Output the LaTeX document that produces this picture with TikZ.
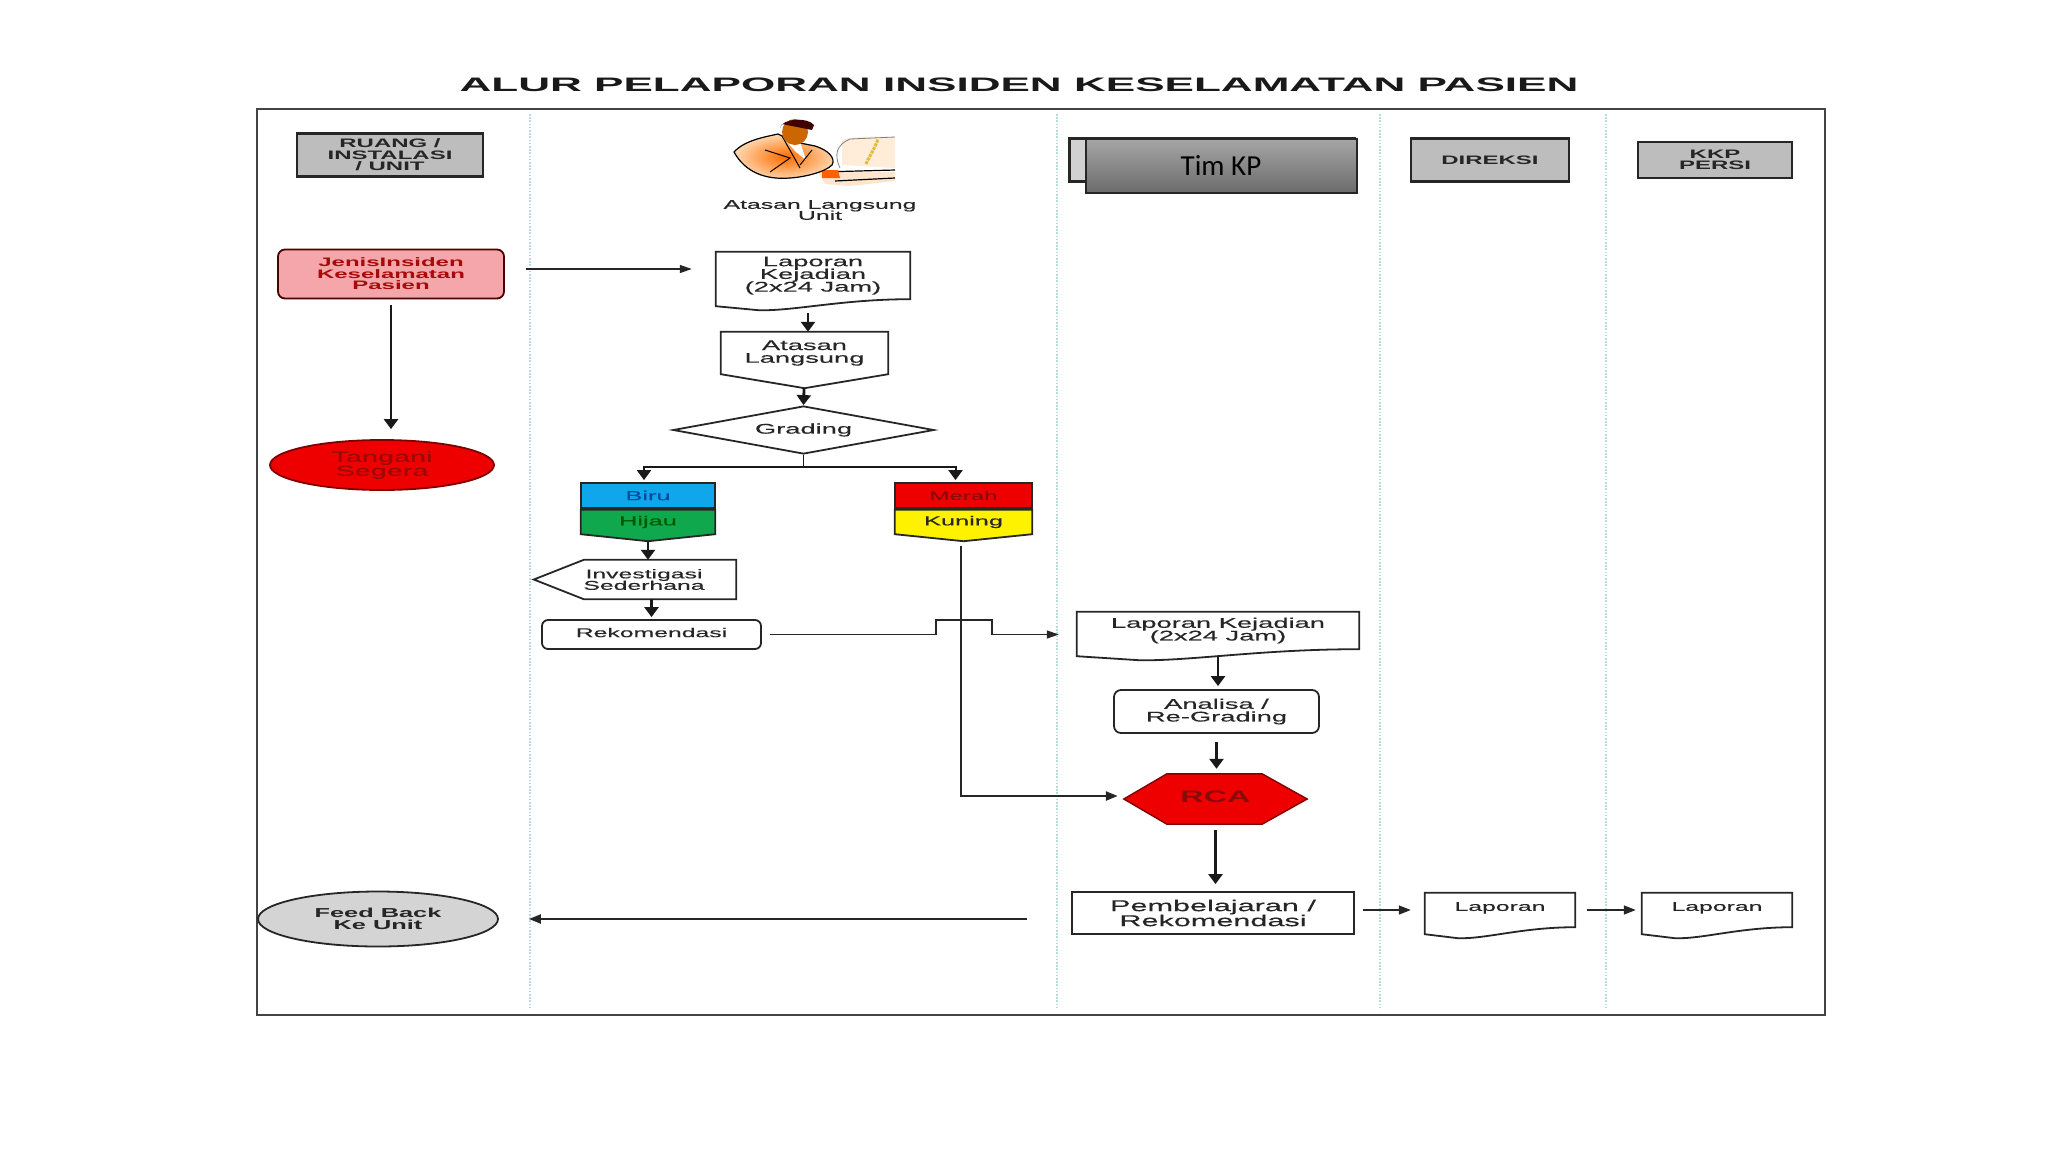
\documentclass[tikz,border=0pt]{standalone}
\usepackage{fontspec}
\usepackage{xcolor}
\usepackage{tikz}
\usetikzlibrary{shapes, shapes.geometric, backgrounds, arrows.meta, calc}
\newfontfamily\flowfont[FakeStretch=1.95, FakeBold=0.3, BoldFeatures={FakeBold=0}]{Liberation Sans}
\newfontfamily\titlefont[FakeStretch=2.26]{Liberation Sans}
\newfontfamily\timfont{Carlito}
\newcommand{\flowsize}[2]{\fontsize{#1}{#2}\selectfont\lineskiplimit=-20pt}
\definecolor{framegray}{HTML}{444444}
\definecolor{lanedot}{HTML}{B4DEDA}
\definecolor{headgray}{HTML}{BDBDBD}
\definecolor{jenispink}{HTML}{F4A6AB}
\definecolor{birublue}{HTML}{0FA6EC}
\definecolor{birutext}{HTML}{0B4A9E}
\definecolor{hijaugreen}{HTML}{10A84C}
\definecolor{merahred}{HTML}{EE0000}
\definecolor{darkred}{HTML}{A80A0A}
\definecolor{inkred}{HTML}{8A0A0A}
\tikzset{
    flowbox/.style={inner sep=0pt, align=center, font=\flowfont\flowsize{14}{12.7}, text=black!85},
    outline/.style={draw=black!85, line width=1.8pt},
    headbox/.style={flowbox, font=\flowfont\bfseries\flowsize{12.3}{11.5}, outline, line width=2.6pt, fill=headgray},
    flowarrow/.style={line width=2.8pt, draw=black!90, -{Triangle[length=10pt,width=14pt]}},
    thinarrow/.style={line width=1.3pt, draw=black!85, -{Triangle[length=12pt,width=8pt]}},
    midarrow/.style={line width=1.6pt, draw=black!85, -{Triangle[length=12pt,width=9pt]}},
    lanedots/.style={draw=lanedot, line width=1.6pt, dash pattern=on 1.6pt off 1.6pt}
}
% outlines under the labels
\newcommand{\docoutline}[1]{
    \begin{pgfonlayer}{background}
    \filldraw[outline, fill=white] (#1.north west) -- (#1.north east) -- (#1.south east)
        .. controls ($(#1.south east)!0.35!(#1.south west)$) and ($(#1.south east)!0.6!(#1.south west)+(0,12)$) .. ($(#1.south east)!0.78!(#1.south west)+(0,11)$)
        -- ($(#1.south west)+(0,7)$) -- cycle;
    \end{pgfonlayer}}
\newcommand{\tipoutline}[3]{
    \begin{pgfonlayer}{background}
    \filldraw[outline, fill=#3] (#1.north west) -- (#1.north east) -- (#1.south east)
        -- ($(#1.south east)!0.5!(#1.south west)+(0,#2)$) -- (#1.south west) -- cycle;
    \end{pgfonlayer}}

\begin{document}
\begin{tikzpicture}[x=1pt, y=-1pt]
    \useasboundingbox (0,0) rectangle (2048,1152);
    % frame and lanes
    \begin{scope}[on background layer]
        \draw[framegray, line width=2.4pt] (257,109) rectangle (1825,1015);
        \foreach \lanex in {530,1057,1380,1606}
            \draw[lanedots] (\lanex,114) -- (\lanex,1010);
    \end{scope}
    \node (title) at (1019,85) {\titlefont\bfseries\flowsize{19.5}{20}\color{black!90}ALUR PELAPORAN INSIDEN KESELAMATAN PASIEN};

    % headers
    \node[headbox, minimum width=186pt, minimum height=43pt] (ruang) at (390,155) {RUANG /\\INSTALASI\\/ UNIT};
    \node[headbox, fill=headgray!70, minimum width=285pt, minimum height=43pt] (timback) at (1212,160) {};
    \node[flowbox, outline, line width=2pt, top color=black!35, bottom color=black!58, minimum width=271pt, minimum height=54pt] (timkp) at (1221,166) {\timfont\flowsize{29}{30}\color{black}Tim KP};
    \node[headbox, minimum width=158pt, minimum height=43pt] (direksi) at (1490,160) {DIREKSI};
    \node[headbox, minimum width=154pt, minimum height=36pt] (kkp) at (1715,160) {KKP\\PERSI};

    % atasan figure
    \fill[white!85!orange] (842,140) .. controls (860,135) and (880,137) .. (895,137) -- (895,168) -- (842,165) -- cycle;
    \draw[black!50, line width=0.8pt] (840,168) .. controls (834,155) and (836,145) .. (850,139) -- (895,137);
    \draw[yellow!45!brown, line width=3pt, densely dotted] (866,164) .. controls (870,155) and (875,148) .. (878,139);
    \fill[white!80!orange] (818,172) -- (895,172) -- (895,181) -- (850,186) -- (825,184) -- cycle;
    \draw[black, line width=1.2pt] (822,172) -- (895,170) (835,181) -- (895,178);
    \fill[orange!75!red] (822,170) -- (838,170) -- (840,178) -- (822,178) -- cycle;
    \filldraw[draw=black, line width=1.2pt, inner color=orange!85!red, outer color=orange!30!white] (734,152) .. controls (745,140) and (765,137) .. (778,134) -- (795,142) -- (815,146) .. controls (828,150) and (836,158) .. (832,165) .. controls (825,172) and (805,177) .. (790,178) .. controls (765,180) and (745,172) .. (734,152) -- cycle;
    \fill[white] (782,136) -- (800,142) -- (806,160) -- (796,152) -- cycle;
    \draw[black, line width=1pt] (782,136) -- (800,168) (765,150) -- (790,158) -- (770,172) (812,150) -- (800,165);
    \fill[orange!80!black] (795,132) ellipse [x radius=13pt, y radius=13pt];
    \fill[black!75!red] (780,128) .. controls (782,118) and (808,117) .. (814,125) -- (812,130) -- (782,124) -- cycle;
    \node[flowbox, font=\flowfont\flowsize{12.7}{11}] (atasanunit) at (820,210) {Atasan Langsung\\Unit};

    % left lane
    \node[flowbox, font=\flowfont\bfseries\flowsize{12.3}{11.5}, text=darkred, outline, draw=black!70!red, fill=jenispink, rounded corners=7pt, minimum width=226pt, minimum height=49pt] (jenis) at (391,274) {JenisInsiden\\Keselamatan\\Pasien};
    \node[flowbox, ellipse, font=\flowfont\flowsize{14.8}{14}, text=inkred!85!red, outline, draw=black!50!red, fill=merahred, minimum width=224pt, minimum height=50pt] (tangani) at (382,465) {Tangani\\Segera};
    \node[flowbox, ellipse, font=\flowfont\bfseries\flowsize{13}{12.6}, outline, fill=black!17, minimum width=240pt, minimum height=55pt] (feedback) at (378,919) {\raisebox{3pt}{\parbox{150pt}{\centering Feed Back\\Ke Unit}}};

    % atasan lane
    \node[flowbox, minimum width=194pt, minimum height=47pt] (laporan) at (813,275.5) {Laporan\\Kejadian\\(2x24 Jam)};
    \docoutline{laporan}
    \node[flowbox, minimum width=167pt, minimum height=42pt] (atasan) at (804.5,353) {Atasan\\Langsung};
    \tipoutline{atasan}{14}{white}
    \node[flowbox, diamond, aspect=5.4, outline, minimum width=261pt, minimum height=48pt] (grading) at (803.5,430) {\raisebox{2pt}{Grading}};
    \coordinate (branch) at (803.5,467);

    \node[flowbox, font=\flowfont\flowsize{13}{12}, text=birutext, outline, fill=birublue, minimum width=134pt, minimum height=25pt] (biru) at (648,495.5) {\raisebox{-3pt}{Biru}};
    \node[flowbox, font=\flowfont\flowsize{13}{12}, text=green!35!black, minimum width=134pt, minimum height=24pt] (hijau) at (648,522) {\raisebox{-3pt}{Hijau}};
    \tipoutline{hijau}{7}{hijaugreen}
    \node[flowbox, font=\flowfont\flowsize{12.3}{12}, text=inkred, outline, fill=merahred, minimum width=137pt, minimum height=25pt] (merah) at (963.5,495.5) {\raisebox{-2pt}{Merah}};
    \node[flowbox, font=\flowfont\flowsize{13}{12}, minimum width=137pt, minimum height=24pt] (kuning) at (963.5,522) {\raisebox{-3pt}{Kuning}};
    \tipoutline{kuning}{7}{yellow}

    \node[flowbox, font=\flowfont\flowsize{12.7}{11.5}, minimum width=184pt, minimum height=39pt] (investigasi) at (644,579.5) {Investigasi\\Sederhana};
    \begin{pgfonlayer}{background}
        \filldraw[outline, fill=white] (investigasi.north east) -- (investigasi.south east) -- ($(investigasi.south west)+(32,0)$) -- ($(investigasi.west)+(-18,0)$) -- ($(investigasi.north west)+(32,0)$) -- cycle;
    \end{pgfonlayer}
    \node[flowbox, font=\flowfont\flowsize{12.7}{12}, outline, rounded corners=6pt, minimum width=219pt, minimum height=29pt] (rekomendasi) at (651.5,634.5) {\raisebox{4pt}{Rekomendasi}};

    % tim kp lane
    \node[flowbox, minimum width=282pt, minimum height=37pt] (laporan2) at (1218,630.5) {Laporan Kejadian\\(2x24 Jam)};
    \docoutline{laporan2}
    \node[flowbox, outline, rounded corners=7pt, minimum width=205pt, minimum height=43pt] (analisa) at (1216.5,711.5) {Analisa /\\Re-Grading};
    \node[flowbox, font=\flowfont\bfseries\flowsize{16.6}{20}, text=inkred, minimum width=183pt, minimum height=50pt] (rca) at (1215.5,799) {\raisebox{4pt}{RCA}};
    \begin{pgfonlayer}{background}
        \filldraw[draw=black!50!red, line width=1.4pt, fill=merahred] (rca.west) -- ($(rca.north west)!0.235!(rca.north east)$) -- ($(rca.north west)!0.754!(rca.north east)$) -- (rca.east) -- ($(rca.south west)!0.754!(rca.south east)$) -- ($(rca.south west)!0.235!(rca.south east)$) -- cycle;
    \end{pgfonlayer}
    \node[flowbox, font=\flowfont\flowsize{15.7}{15}, outline, minimum width=282pt, minimum height=42pt] (pembelajaran) at (1213,913) {Pembelajaran /\\Rekomendasi};

    % report lanes
    \node[flowbox, font=\flowfont\flowsize{12.7}{12}, minimum width=150pt, minimum height=34pt] (laporan3) at (1500,910) {\raisebox{7pt}{Laporan}};
    \docoutline{laporan3}
    \node[flowbox, font=\flowfont\flowsize{12.7}{12}, minimum width=150pt, minimum height=34pt] (laporan4) at (1717,910) {\raisebox{7pt}{Laporan}};
    \docoutline{laporan4}

    % connectors
    \draw[flowarrow, shorten <=6pt, shorten >=10pt] (jenis.south) -- (jenis.south |- tangani.north);
    \draw[thinarrow, shorten <=21pt, shorten >=24pt] ([yshift=5pt]jenis.east) -- ([yshift=5pt]jenis.east -| laporan.west);
    \draw[flowarrow, shorten <=14pt] ([xshift=-5pt]laporan.south) -- ([xshift=-5pt]laporan.south |- atasan.north);
    \draw[flowarrow, shorten <=14pt] (atasan.south) -- (grading.north);
    \draw[line width=1.6pt, black!90] (grading.south) -- (branch);
    \draw[flowarrow, line width=2pt, shorten >=2pt] (branch) -| ([xshift=-4pt]biru.north);
    \draw[flowarrow, line width=2pt, shorten >=2pt] (branch) -| ([xshift=-8pt]merah.north);
    \draw[flowarrow, shorten <=7pt] (hijau.south) -- (hijau.south |- investigasi.north);
    \draw[flowarrow, shorten >=2pt] (rekomendasi.north |- investigasi.south) -- (rekomendasi.north);
    \coordinate (hopleft) at (936,620);
    \coordinate (hopright) at (992,620);
    \draw[thinarrow, shorten <=8pt, shorten >=18pt] (rekomendasi.east) -- (rekomendasi.east -| hopleft) -- (hopleft) -- (hopright) -- (rekomendasi.east -| hopright) -- (rekomendasi.east -| laporan2.west);
    \coordinate (kuningturn) at (961,796);
    \draw[midarrow, line width=2.4pt, shorten <=12pt, shorten >=6pt] (kuningturn |- kuning.south) -- (kuningturn) -- (kuningturn -| rca.west);
    \draw[flowarrow, shorten <=8pt, shorten >=3pt] (laporan2.south) -- (laporan2.south |- analisa.north);
    \draw[flowarrow, shorten <=8pt, shorten >=5pt] (analisa.south) -- (analisa.south |- rca.north);
    \draw[flowarrow, shorten <=6pt, shorten >=7pt] (rca.south) -- (rca.south |- pembelajaran.north);
    \draw[midarrow, shorten <=8pt, shorten >=14pt] (pembelajaran.east |- laporan3.west) -- (laporan3.west);
    \draw[midarrow, shorten <=12pt, shorten >=6pt] (laporan3.east) -- (laporan4.west);
    \draw[midarrow, line width=2.2pt, shorten <=44pt, shorten >=30pt] (pembelajaran.west |- feedback.east) -- (feedback.east);
\end{tikzpicture}
\end{document}
